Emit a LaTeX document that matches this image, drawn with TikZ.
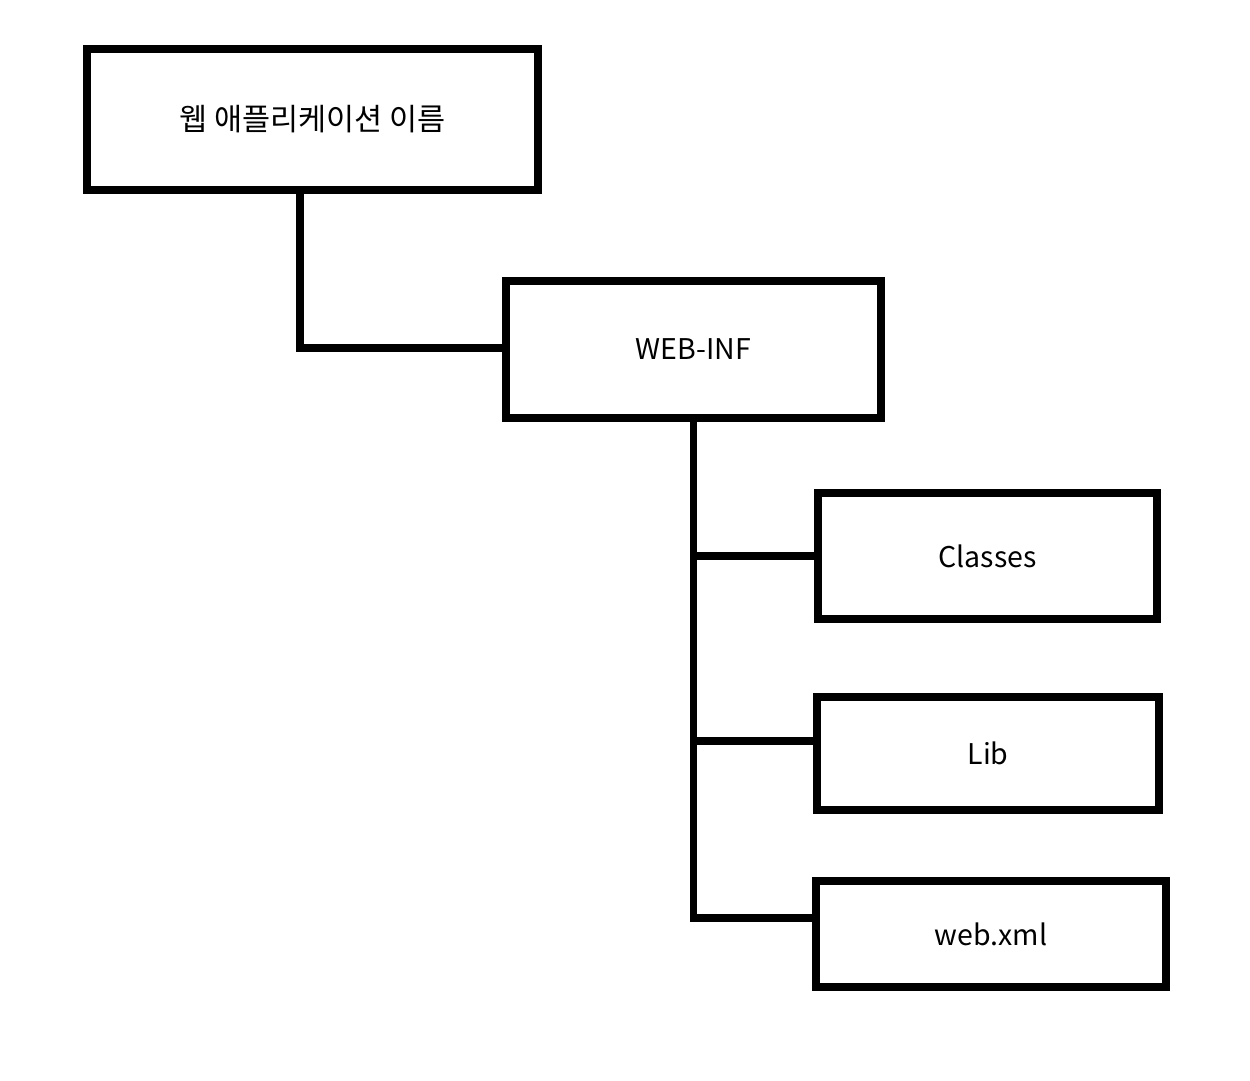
\documentclass[tikz,border=0pt]{standalone}
\usepackage{fontspec}
\setmainfont{Noto Sans CJK KR}
\begin{document}
\begin{tikzpicture}[x=1pt,y=-1pt,
  folder/.style={draw=black,line width=7.5pt,rectangle,inner sep=0pt,outer sep=0pt,font=\fontsize{28.5}{34}\selectfont},
  link/.style={draw=black,line width=7.5pt}]
\useasboundingbox[fill=white] (0,0) rectangle (1250,1080);
\node[folder,minimum width=451pt,minimum height=141pt,font=\fontsize{30.5}{36}\selectfont] (app) at (312.5,119.5) {웹 애플리케이션 이름};
\node[folder,minimum width=375pt,minimum height=137pt] (webinf) at (693.5,349.5) {WEB-INF};
\node[folder,minimum width=339pt,minimum height=126pt] (classes) at (987.5,556) {Classes};
\node[folder,minimum width=342pt,minimum height=113pt] (lib) at (988,753.5) {Lib};
\node[folder,minimum width=350pt,minimum height=106pt] (webxml) at (991,934) {web.xml};
\draw[link] ([xshift=-12.5pt]app.south) |- ([yshift=1.5pt]webinf.west);
\draw[link] (webinf.south) |- ([yshift=16pt]webxml.west);
\draw[link] (webinf.south |- classes.west) -- (classes.west);
\draw[link] (webinf.south |- lib.west) ++(0,-12.5) -- ([yshift=12.5pt]lib.west);
\end{tikzpicture}
\end{document}
